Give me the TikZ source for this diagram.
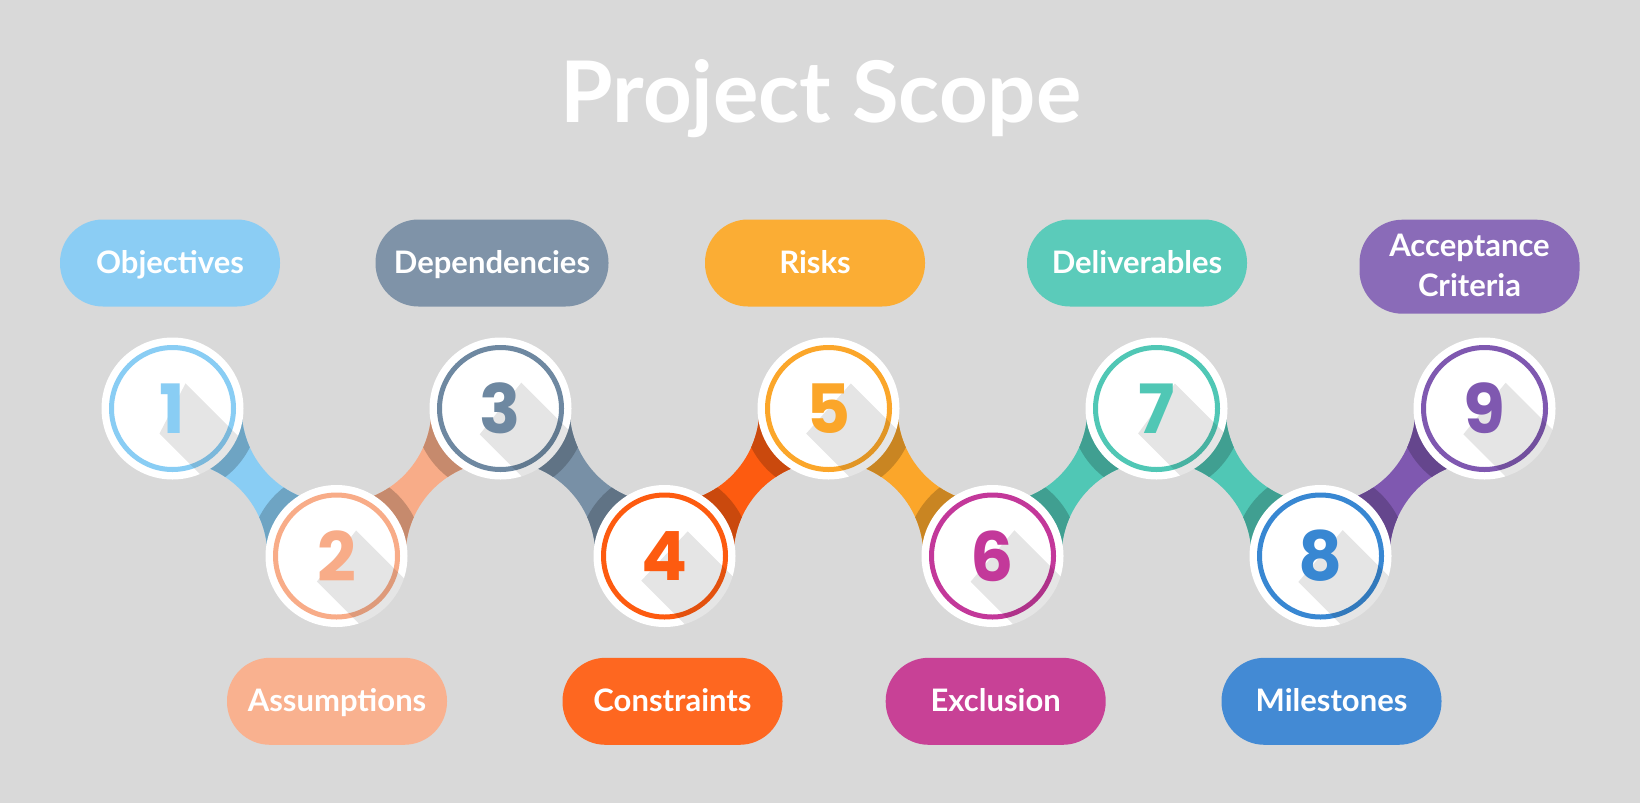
\documentclass[tikz,border=0pt]{standalone}
\usepackage{fontspec}
\setmainfont{Lato}
\newfontfamily\numfont[Numbers=Proportional]{Poppins}
\usetikzlibrary{positioning,calc}
\definecolor{canvas}{HTML}{D9D9D9}
\definecolor{skyblue}{HTML}{89CDF4}
\definecolor{peach}{HTML}{F8AC88}
\definecolor{slate}{HTML}{6E88A1}
\definecolor{slateband}{HTML}{7890A6}
\definecolor{flame}{HTML}{FD5B10}
\definecolor{amber}{HTML}{FBA62A}
\definecolor{magenta}{HTML}{C3389A}
\definecolor{teal}{HTML}{50C7B5}
\definecolor{ocean}{HTML}{3887D2}
\definecolor{violet}{HTML}{7F58B0}
\definecolor{skybluebg}{HTML}{8BCDF4}
\definecolor{peachbg}{HTML}{F9B18F}
\definecolor{slatebg}{HTML}{7F93A8}
\definecolor{flamebg}{HTML}{FE6720}
\definecolor{amberbg}{HTML}{FBAD34}
\definecolor{magentabg}{HTML}{C84196}
\definecolor{tealbg}{HTML}{5BCBBA}
\definecolor{oceanbg}{HTML}{438AD4}
\definecolor{violetbg}{HTML}{8A6BB8}
\tikzset{
  pill/.style={rectangle,rounded corners=43pt,minimum width=220pt,minimum height=87pt,
    inner sep=0pt,align=center,text=white,text height=25pt,text depth=5pt,
    font=\bfseries\fontsize{31}{40}\selectfont},
  ring/.style={line width=5pt},
  numeral/.style={inner sep=0pt,font=\numfont\bfseries\fontsize{68}{68}\selectfont},
  longshade/.style={fill=black,fill opacity=0.1},
  headline/.style={anchor=base,inner sep=0pt,font=\bfseries\fontsize{85}{85}\selectfont},
}
\pgfdeclarelayer{band}
\pgfdeclarelayer{disk}
\pgfdeclarelayer{shade}
\pgfsetlayers{band,disk,shade,main}

\begin{document}
\begin{tikzpicture}[x=1pt,y=-1pt]
  \begin{pgfonlayer}{band}
    \fill[canvas] (0,0) rectangle (1640,803);
  \end{pgfonlayer}
  \useasboundingbox (0,0) rectangle (1640,803);

  \foreach \i/\cx/\cy in {1/172.5/408.5,2/336.5/556,3/500.5/408.5,4/664.5/556,5/828.5/408.5,
      6/992.5/556,7/1156.5/408.5,8/1320.5/556,9/1484.5/408.5}
    \coordinate (c\i) at (\cx,\cy);

  % links between neighbouring circles
  \begin{pgfonlayer}{band}
    \foreach \a/\b/\col in {1/2/skyblue,2/3/peach,3/4/slateband,4/5/flame,5/6/amber,
        6/7/teal,7/8/teal,8/9/violet}{
      \begin{scope}
        \clip (c\a) rectangle (c\b);
        \fill[\col,even odd rule] ($(c\a)!-0.2!(c\b)$) rectangle ($(c\a)!1.2!(c\b)$)
          (c\a -| c\b) circle (95pt) (c\a |- c\b) circle (95pt);
        \clip (c\a) circle (86.5pt) (c\b) circle (86.5pt);
        \fill[\col!80!black,even odd rule] ($(c\a)!-0.2!(c\b)$) rectangle ($(c\a)!1.2!(c\b)$)
          (c\a -| c\b) circle (95pt) (c\a |- c\b) circle (95pt);
      \end{scope}
    }
  \end{pgfonlayer}

  \foreach \i/\col in {1/skyblue,2/peach,3/slate,4/flame,5/amber,6/magenta,7/teal,8/ocean,9/violet}{
    \begin{pgfonlayer}{disk}
      \fill[white] (c\i) circle (71pt);
      \draw[ring,\col] (c\i) circle (61pt);
    \end{pgfonlayer}
    \node[numeral,text=\col] (d\i) at (c\i) {\i};
    \begin{pgfonlayer}{shade}
      \begin{scope}
        \clip (c\i) circle (71pt);
        \fill[longshade] (d\i.north east) -- ++(160,160) -- ($(d\i.south west)+(160,160)$)
          -- (d\i.south west) -- cycle;
      \end{scope}
    \end{pgfonlayer}
  }

  \node[pill,fill=skybluebg] (objectives) at (170,263) {Objectives};
  \node[pill,fill=slatebg,minimum width=233pt] (dependencies) at (492,263) {Dependencies};
  \node[pill,fill=amberbg] (risks) at (815,263) {Risks};
  \node[pill,fill=tealbg] (deliverables) at (1137,263) {Deliverables};
  \node[pill,fill=violetbg,minimum height=94pt,text height=65pt] (acceptance) at (1469.5,266.7) {Acceptance\\Criteria};
  \node[pill,fill=peachbg] (assumptions) at (337,701.3) {Assumptions};
  \node[pill,fill=flamebg] (constraints) at (672.5,701.3) {Constraints};
  \node[pill,fill=magentabg] (exclusion) at (995.7,701.3) {Exclusion};
  \node[pill,fill=oceanbg] (milestones) at (1331.5,701.3) {Milestones};

  \node[headline,text=white] (title) at (821,122.4) {Project Scope};
\end{tikzpicture}
\end{document}
